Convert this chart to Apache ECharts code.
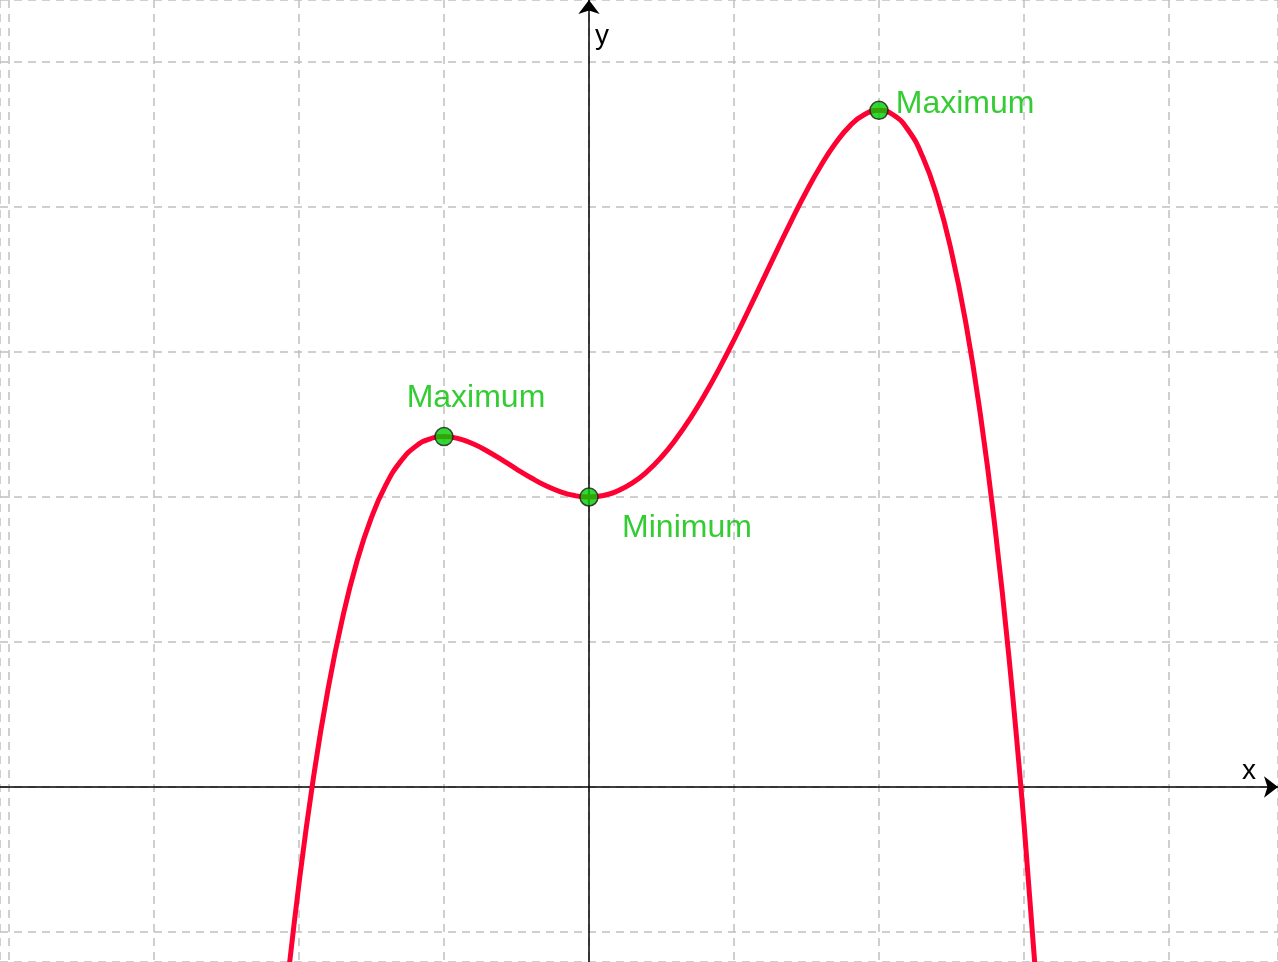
<!DOCTYPE html>
<html lang="de">
<head>
  <meta charset="UTF-8">
  <script src="https://cdn.jsdelivr.net/npm/echarts@6/dist/echarts.min.js"></script>
  <title>Extrema</title>
  <style>
    html, body { margin: 0; padding: 0; background: #fff; }
    .container { width: 1278px; height: 962px; }
  </style>
</head>
<body>
  <div class="container"></div>
  <script>
    // curve points
    const curveX = [-2.1, -2.0, -1.9, -1.8, -1.7, -1.6, -1.5, -1.4, -1.3, -1.2, -1.1, -1.0, -0.9, -0.8, -0.7, -0.6, -0.5, -0.4, -0.3, -0.2, -0.1,
      0, 0.1, 0.2, 0.3, 0.4, 0.5, 0.6, 0.7, 0.8, 0.9, 1.0, 1.1, 1.2, 1.3, 1.4, 1.5, 1.6, 1.7, 1.8, 1.9, 2.0, 2.1, 2.2, 2.3, 2.4, 2.5, 2.6, 2.7, 2.8, 2.9, 3.0, 3.1];
    const curveY = [-1.539, -0.667, 0.066, 0.672, 1.164, 1.557, 1.859, 2.085, 2.244, 2.346, 2.400, 2.417, 2.403, 2.367, 2.316, 2.256, 2.193, 2.133, 2.079, 2.037, 2.010,
      2.000, 2.010, 2.043, 2.097, 2.175, 2.276, 2.400, 2.544, 2.708, 2.889, 3.083, 3.288, 3.498, 3.708, 3.914, 4.109, 4.287, 4.440, 4.560, 4.638, 4.667, 4.635, 4.533, 4.350, 4.074, 3.692, 3.195, 2.565, 1.791, 0.860, -0.250, -1.548];

    const extremaX = [-1, 0, 2];
    const extremaY = [2.417, 2.0, 4.667];
    const extremaNames = ["Maximum", "Minimum", "Maximum"];

    const xTicks = [-3, -2, -1, 0, 1, 2, 3, 4];
    const yTicks = [-1, 0, 1, 2, 3, 4, 5];

    const font = "Liberation Sans";
    const gridLine = { show: true, lineStyle: { color: "#c0c0c0", type: [8, 6], width: 1.5 } };
    const axisLine = { onZero: true, lineStyle: { color: "#000", width: 1.5 }, symbol: ["none", "arrow"], symbolSize: [16, 14] };
    const tickText = { show: true, color: "#000", fontSize: 28, fontFamily: font };

    const chart = echarts.init(document.querySelector(".container"));
    const labelPos = [
      { position: "top", offset: [32, -8] },
      { position: "bottom", offset: [98, 0] },
      { position: "right", offset: [2, -6] },
    ];

    chart.setOption({
      animation: false,
      grid: { left: 0, right: 0, top: 0, bottom: 0, containLabel: false, outerBoundsMode: "none" },
      xAxis: {
        type: "value",
        min: -4.062,
        max: 4.752,
        minInterval: 1,
        maxInterval: 1,
        name: "x",
        nameGap: -36,
        nameTextStyle: { fontSize: 28, color: "#000", fontFamily: font, verticalAlign: "bottom", padding: [0, 0, 2, 0] },
        axisLine: axisLine,
        axisTick: { show: false },
        splitLine: gridLine,
        axisLabel: { show: false },
      },
      yAxis: {
        type: "value",
        min: -1.207,
        max: 5.428,
        minInterval: 1,
        maxInterval: 1,
        name: "y",
        nameGap: -50,
        nameTextStyle: { fontSize: 28, color: "#000", fontFamily: font, align: "left", padding: [0, 0, 0, 6] },
        axisLine: axisLine,
        axisTick: { show: false },
        splitLine: gridLine,
        axisLabel: { show: false },
      },
      series: [
        {
          type: "line",
          data: curveX.map((x, i) => [x, curveY[i]]),
          smooth: true,
          showSymbol: false,
          lineStyle: { color: "#ff0033", width: 5 },
          z: 2,
        },
        {
          type: "scatter",
          data: extremaX.map((x, i) => ({
            value: [x, extremaY[i]],
            label: { show: true, formatter: extremaNames[i], ...labelPos[i] },
          })),
          symbolSize: 18,
          itemStyle: { color: "#00cc00", borderColor: "#1a1a1a", borderWidth: 1.5 },
          label: { color: "#00c000", fontSize: 32, fontFamily: font },
          z: 3,
        },
        {
          // x tick labels
          type: "scatter",
          data: xTicks.map((v) => [v, 0]),
          symbolSize: 1,
          itemStyle: { opacity: 0 },
          label: { ...tickText, position: "inside", offset: [17, 30], formatter: (p) => String(p.value[0]) },
          silent: true,
          z: 4,
        },
        {
          // y tick labels
          type: "scatter",
          data: yTicks.map((v) => [0, v]),
          symbolSize: 1,
          itemStyle: { opacity: 0 },
          label: { ...tickText, position: "inside", offset: [-22, -16], formatter: (p) => String(p.value[1]) },
          silent: true,
          z: 4,
        },
      ],
    });
  </script>
</body>
</html>
